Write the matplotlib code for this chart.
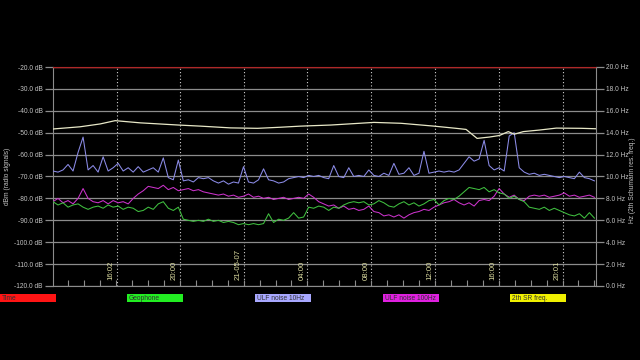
import numpy as np
import matplotlib.pyplot as plt
from matplotlib.patches import Rectangle
from matplotlib.ticker import FuncFormatter, MultipleLocator

plt.rcParams['font.family'] = ['Liberation Sans', 'DejaVu Sans']

# time axis in hours since 00:00 of 21-05-06
t_start, t_end = 12.04, 46.1
sample_first, sample_last = 12.04, 46.0

# ULF noise 10Hz (dB)
ulf10 = [-67.5, -68, -67, -64.5, -67.5, -59, -52, -67, -65, -68, -61, -67.5, -66, -64, -67.5, -66,
         -68, -65.5, -68, -67, -66, -68, -61.5, -70.5, -71.5, -62.5, -72, -71.5, -72.5, -70.5, -71, -70.5,
         -72, -73, -72, -73.5, -72.5, -73, -65.5, -72.5, -73, -71.5, -66.5, -71.5, -72, -73, -72.5, -71,
         -70.5, -70, -70.5, -69.5, -70, -69.5, -70.5, -71, -65, -70, -70.5, -66, -70, -69.5, -70, -67,
         -69.5, -70, -68.5, -69.5, -64, -69, -68.5, -66, -69.5, -68.5, -58.5, -68.5, -68, -67.5, -68, -67.5,
         -68, -67, -64, -61, -63, -62, -53.5, -65, -67, -66, -67.5, -51.5, -50, -66, -68, -69,
         -68.5, -69.5, -69, -69.5, -70, -70.5, -70, -70.5, -71, -68, -70.5, -71, -72]

# ULF noise 100Hz (dB)
ulf100 = [-81.5, -80, -82, -81, -82.5, -80, -75.5, -80, -81.5, -82, -81, -82.5, -81, -82, -81.5, -82.5,
          -80, -78, -76.5, -74.5, -75, -75.5, -74, -76, -75, -76.5, -76, -75.5, -76.5, -76, -77, -77.5,
          -78, -78.5, -78, -79, -78.5, -79.5, -79, -78, -79.5, -79, -80, -79.5, -80.5, -80, -79.5, -80.5,
          -80, -79.5, -80, -78, -79.5, -81.5, -82.5, -83.5, -83, -84.5, -83.5, -85, -84.5, -85.5, -85, -83.5,
          -86, -86.5, -88, -87.5, -88.5, -87.5, -89, -87.5, -86.5, -86, -85, -85.5, -84, -83, -82, -81.5,
          -80.5, -82, -83, -82, -83.5, -81, -80.5, -81, -79, -75.5, -78, -79.5, -78.5, -80.5, -81, -79,
          -78.5, -79, -78.5, -79.5, -79, -78.5, -77.5, -79, -78.5, -79.5, -79, -78.5, -79.5]

# Geophone (dB)
geophone = [-81.5, -83, -82, -84, -83, -82.5, -84, -85, -84, -83.5, -84.5, -83, -84, -83.5, -85, -84,
            -84.5, -86, -85.5, -84, -85, -82.5, -81.5, -84.5, -85.5, -84, -89.5, -90, -90.5, -90, -90.5, -89.5,
            -90.5, -90, -91, -90.5, -91, -92, -91.5, -92, -91.5, -92, -91.5, -87, -91, -89.5, -90, -89,
            -86.5, -89, -88.5, -84, -84.5, -83.5, -84, -85.5, -84, -84.5, -83, -82, -81.5, -82, -81.5, -83,
            -82.5, -81, -82, -83.5, -84, -82.5, -81.5, -83, -82, -83.5, -82.5, -81, -80.5, -83, -81, -80,
            -80.5, -79, -77, -75, -75.5, -76, -75, -77, -76, -77.5, -78, -80, -79, -80.5, -81.5, -84,
            -84.5, -85, -84, -85.5, -84.5, -85.5, -86.5, -87.5, -88, -87, -89, -86.5, -89]

# 2th Schumann resonance frequency (Hz)
sr_hours = [12.04, 13.74, 15.0, 15.94, 17.51, 19.9, 21.29, 23.17, 24.87, 26.32, 27.57, 29.46, 32.17, 33.86,
            35.94, 37.32, 37.95, 38.64, 39.4, 40.03, 40.6, 40.97, 41.54, 42.54, 43.61, 45.19, 46.1]
sr_freq = [14.34, 14.54, 14.8, 15.1, 14.9, 14.7, 14.6, 14.44, 14.4, 14.5, 14.6, 14.7, 14.94, 14.86,
           14.6, 14.4, 14.3, 13.48, 13.6, 13.74, 14.1, 13.86, 14.1, 14.24, 14.42, 14.4, 14.36]

mark_hours = [16.03, 20.0, 24.0, 28.0, 32.0, 36.0, 40.0, 44.02]
mark_labels = ['16:02', '20:00', '21-05-07', '04:00', '08:00', '12:00', '16:00', '20:01']

legend_names = ['Time', 'Geophone', 'ULF noise 10Hz', 'ULF noise 100Hz', '2th SR freq.']
legend_colors = ['#ff1414', '#22ee22', '#a8a8ff', '#e020e0', '#f0f000']
legend_left = [0, 127, 255, 383, 510]  # px

txt = '#c4c4c4'
grid = '#8c8c8c'
fs = 4.8

fig = plt.figure(figsize=(6.4, 3.6), dpi=100, facecolor='black')
ax = fig.add_axes([53/640, 1-286/360, 543/640, 219/360])
ax.set_facecolor('black')

ax.set_xlim(t_start, t_end)
ax.set_ylim(-120, -20)
ax.yaxis.set_major_locator(MultipleLocator(10))
ax.yaxis.set_major_formatter(FuncFormatter(lambda v, p: f'{v:.1f} dB'))
ax.grid(axis='y', color=grid, lw=0.9)
ax.axhline(-20, color='#b02828', lw=1.0, zorder=3)

for h in mark_hours:
    ax.axvline(h, color='#d0d0d0', lw=0.8, ls=(0, (1, 2)), zorder=1)
for h, lab in zip(mark_hours, mark_labels):
    ax.text(h - 0.12, 0.028, lab, transform=ax.get_xaxis_transform(), rotation=90,
            ha='right', va='bottom', color='#dcdca0', fontsize=5.6)

ax.set_xticks(range(13, 47))
ax.set_xticklabels([])
ax.tick_params(axis='x', direction='in', length=4, color=grid, width=0.8)
ax.tick_params(axis='y', direction='out', length=6, color=grid, width=0.9,
               labelcolor=txt, labelsize=fs, pad=1.5)

for s in ['left', 'bottom', 'right']:
    ax.spines[s].set_color(grid)
ax.spines['top'].set_color('#b02828')

ax.plot(np.linspace(sample_first, sample_last, len(ulf100)), ulf100, color='#cc33cc', lw=0.75, zorder=4)
ax.plot(np.linspace(sample_first, sample_last, len(geophone)), geophone, color='#40c040', lw=0.75, zorder=4)
ax.plot(np.linspace(sample_first, sample_last, len(ulf10)), ulf10, color='#8c8ce8', lw=0.75, zorder=5)

ax2 = ax.twinx()
ax2.set_ylim(0, 20)
ax2.yaxis.set_major_locator(MultipleLocator(2))
ax2.yaxis.set_major_formatter(FuncFormatter(lambda v, p: f'{v:.1f} Hz'))
ax2.tick_params(axis='y', direction='out', length=6, color=grid, width=0.9,
                labelcolor=txt, labelsize=fs, pad=1.5)
for s in ax2.spines.values():
    s.set_visible(False)
ax2.plot(sr_hours, sr_freq, color='#e8e8c8', lw=0.9, zorder=5)

# axis titles sit near the picture edges
fig.text(8/640, 1-176/360, 'dBm (radio signals)', color=txt, fontsize=fs,
         rotation=90, ha='center', va='center')
fig.text(633/640, 1-180/360, 'Hz (2th Schumann res. freq.)', color=txt, fontsize=fs,
         rotation=90, ha='center', va='center')

for name, col, x0 in zip(legend_names, legend_colors, legend_left):
    fig.patches.append(Rectangle((x0/640, 1-302/360), 56/640, 8/360, transform=fig.transFigure,
                                 facecolor=col, edgecolor='none'))
    fig.text((x0 + 2)/640, 1-298/360, name, color='#303030', fontsize=fs, va='center', ha='left')

fig.savefig('out.png', dpi=100, facecolor='black')
